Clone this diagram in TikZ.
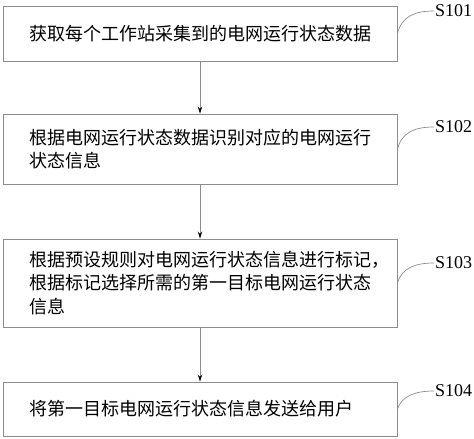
\documentclass[tikz,border=0pt]{standalone}
\usepackage{fontspec}
\setmainfont{Liberation Serif}
\newfontfamily\cjk{Noto Sans CJK SC}
\usetikzlibrary{arrows.meta}
\tikzset{
  stepbox/.style={draw=gray!90, line width=0.9pt, rectangle, minimum width=394pt,
    inner xsep=26pt, inner ysep=0pt, text width=342pt, align=left,
    font=\cjk\fontsize{18pt}{23.5pt}\selectfont},
  flow/.style={draw=gray!90, line width=0.9pt, -{Stealth[black,length=7pt,width=4.5pt]}},
  tag/.style={font=\fontsize{18pt}{20pt}\selectfont, anchor=west, inner sep=1pt},
  hook/.style={draw=gray!90, line width=0.7pt}
}
\begin{document}
\begin{tikzpicture}[x=1pt,y=1pt]
\useasboundingbox (0,0) rectangle (474,-439);
% steps
\node (b1) at (200,-33.5) [stepbox, minimum height=55pt] {获取每个工作站采集到的电网运行状态数据};
\node (b2) at (200,-149) [stepbox, minimum height=70pt] {根据电网运行状态数据识别对应的电网运行\\状态信息};
\node (b3) at (200,-283) [stepbox, minimum height=88pt] {根据预设规则对电网运行状态信息进行标记，\\根据标记选择所需的第一目标电网运行状态\\信息};
\node (b4) at (200,-409) [stepbox, minimum height=54pt] {将第一目标电网运行状态信息发送给用户};

% step numbers
\node (s1) at (434,-11) [tag] {S101};
\node (s2) at (434,-127) [tag] {S102};
\node (s3) at (434,-263) [tag] {S103};
\node (s4) at (434,-391) [tag] {S104};

\draw [hook] (b1.east) .. controls (402,-16) and (415,-11) .. (s1.west);
\draw [hook] (b2.east) .. controls (402,-132) and (415,-127) .. (s2.west);
\draw [hook] (b3.east) .. controls (402,-268) and (415,-263) .. (s3.west);
\draw [hook] (b4.east) .. controls (402,-396) and (415,-391) .. (s4.west);

% arrows
\draw [flow] (b1) -- (b2);
\draw [flow] (b2) -- (b3);
\draw [flow] (b3) -- (b4);
\end{tikzpicture}
\end{document}
